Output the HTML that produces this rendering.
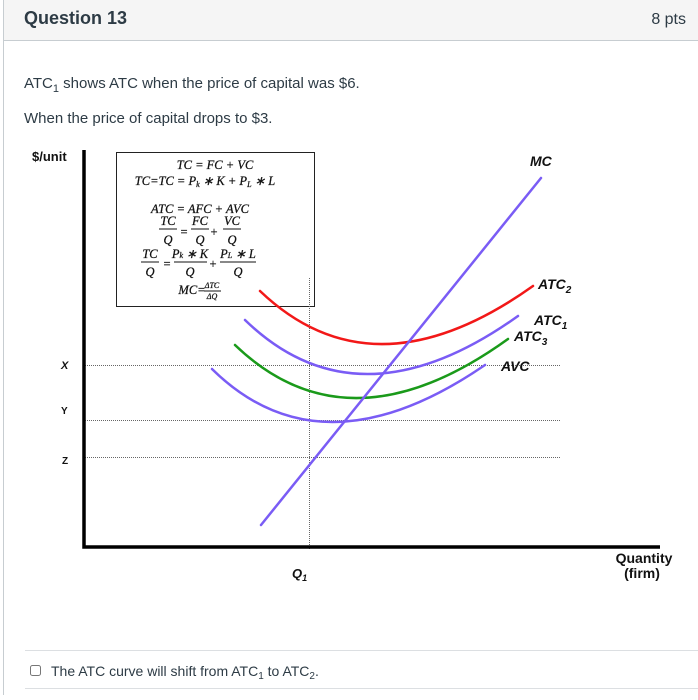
<!DOCTYPE html>
<html><head><meta charset="utf-8"><style>
body{margin:0;width:698px;height:695px;background:#fff;overflow:hidden;font-family:"Liberation Sans",sans-serif;}
</style></head><body>
<svg width="698" height="695" viewBox="0 0 698 695" xmlns="http://www.w3.org/2000/svg">
<rect x="3" y="0" width="695" height="40" fill="#f5f5f5"/>
<line x1="3.5" y1="0" x2="3.5" y2="695" stroke="#c7cdd1"/>
<line x1="3" y1="40.5" x2="698" y2="40.5" stroke="#c7cdd1"/>
<text x="24" y="24" font-size="18" font-weight="bold" fill="#2d3b45">Question 13</text>
<text x="686" y="24" font-size="16" fill="#2d3b45" text-anchor="end">8 pts</text>
<text x="24" y="88" font-size="15" fill="#2d3b45">ATC<tspan font-size="11" dy="4">1</tspan><tspan dy="-4"> shows ATC when the price of capital was $6.</tspan></text>
<text x="24" y="123" font-size="15" fill="#2d3b45">When the price of capital drops to $3.</text>

<!-- formula box -->
<rect x="116.5" y="152.5" width="198" height="154" fill="#fff" stroke="#222" stroke-width="1"/>
<g font-family="Liberation Serif,serif" font-style="italic" font-size="12.5" fill="#111" text-anchor="middle" stroke="#111" stroke-width="0.25">
<text x="215" y="169">TC = FC + VC</text>
<text x="205" y="185">TC=TC = P<tspan font-size="8" dy="2">k</tspan><tspan dy="-2"> ∗ K + P</tspan><tspan font-size="8" dy="2">L</tspan><tspan dy="-2"> ∗ L</tspan></text>
<text x="200" y="213">ATC = AFC + AVC</text>
<text x="168" y="225">TC</text><text x="200" y="225">FC</text><text x="232" y="225">VC</text>
<text x="184" y="236" font-style="normal">=</text><text x="214" y="236" font-style="normal">+</text>
<text x="168" y="244">Q</text><text x="200" y="244">Q</text><text x="232" y="244">Q</text>
<text x="150" y="258">TC</text><text x="190" y="258">P<tspan font-size="8">k</tspan> ∗ K</text><text x="238" y="258">P<tspan font-size="8">L</tspan> ∗ L</text>
<text x="167" y="268" font-style="normal">=</text><text x="213" y="268" font-style="normal">+</text>
<text x="150" y="276">Q</text><text x="190" y="276">Q</text><text x="238" y="276">Q</text>
<text x="192" y="294">MC=</text><text x="212" y="288" font-size="8">ΔTC</text><text x="212" y="299" font-size="8">ΔQ</text>
</g>
<g stroke="#111" stroke-width="0.9">
<line x1="159" y1="229" x2="177" y2="229"/><line x1="191" y1="229" x2="209" y2="229"/><line x1="223" y1="229" x2="241" y2="229"/>
<line x1="141" y1="262" x2="159" y2="262"/><line x1="174" y1="262" x2="207" y2="262"/><line x1="220" y1="262" x2="256" y2="262"/>
<line x1="204" y1="291" x2="221" y2="291"/>
</g>

<!-- dotted guide lines -->
<g stroke="#666" stroke-width="1" stroke-dasharray="1,1">
<line x1="85" y1="365.5" x2="560" y2="365.5"/>
<line x1="85" y1="420.5" x2="560" y2="420.5"/>
<line x1="85" y1="457.5" x2="560" y2="457.5"/>
<line x1="309.5" y1="278" x2="309.5" y2="550"/>
</g>

<!-- axes -->
<path d="M84 150 V547 H660" fill="none" stroke="#000" stroke-width="3.5"/>

<!-- curves -->
<g fill="none" stroke-width="2.5" stroke-linecap="round">
<path d="M260 291 Q373.5 399.5 533 286" stroke="#f21818"/>
<path d="M245 320 Q358.5 430 518 316" stroke="#7a5cf5"/>
<path d="M235 345 Q348.5 454 508 339" stroke="#1a9a1a"/>
<path d="M212 369 Q321.5 477 485 365" stroke="#7a5cf5"/>
<line x1="261" y1="525" x2="541" y2="178" stroke="#7a5cf5"/>
</g>

<g font-weight="bold" font-style="italic" fill="#111">
<text x="32" y="161" font-size="13" font-style="normal">$/unit</text>
<text x="530" y="166" font-size="14">MC</text>
<text x="538" y="289" font-size="14">ATC<tspan font-size="10" dy="4">2</tspan></text>
<text x="534" y="325" font-size="14">ATC<tspan font-size="10" dy="4">1</tspan></text>
<text x="514" y="341" font-size="14">ATC<tspan font-size="10" dy="4">3</tspan></text>
<text x="501" y="371" font-size="14">AVC</text>
<text x="61" y="369" font-size="11">X</text>
<text x="61" y="414" font-size="10" font-style="normal">Y</text>
<text x="62" y="464" font-size="10" font-style="normal">Z</text>
<text x="292" y="578" font-size="13">Q<tspan font-size="9" dy="3">1</tspan></text>
</g>
<g font-weight="bold" fill="#111" font-size="14" text-anchor="middle">
<text x="644" y="563">Quantity</text>
<text x="642" y="578">(firm)</text>
</g>

<line x1="25" y1="650.5" x2="698" y2="650.5" stroke="#dcdfe2"/>
<line x1="25" y1="688.5" x2="698" y2="688.5" stroke="#dcdfe2"/>
<rect x="30.5" y="665.5" width="10" height="10" rx="2" fill="#fff" stroke="#777"/>
<text x="51" y="676" font-size="14" fill="#2d3b45">The ATC curve will shift from ATC<tspan font-size="10" dy="3">1</tspan><tspan dy="-3"> to ATC</tspan><tspan font-size="10" dy="3">2</tspan><tspan dy="-3">.</tspan></text>
</svg>
</body></html>
